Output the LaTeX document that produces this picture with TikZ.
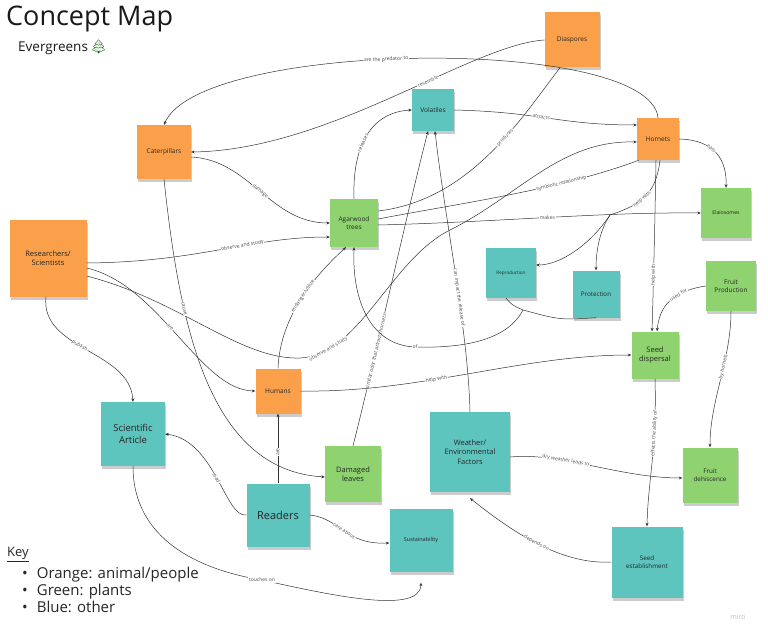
\documentclass[tikz,border=0pt]{standalone}
\usepackage{fontspec}
\setmainfont{Open Sans}
\newfontfamily\emojifont{Noto Emoji}
\usetikzlibrary{shadows,arrows.meta}
\definecolor{orng}{RGB}{250,160,75}
\definecolor{grn}{RGB}{143,210,112}
\definecolor{teal}{RGB}{94,196,190}
\tikzset{
  note/.style={minimum width=#1, minimum height=#1, inner sep=1pt, align=center, text=black!85,
    drop shadow={shadow xshift=1pt,shadow yshift=-3pt,opacity=0.2,fill=black}},
  onote/.style={note=#1, fill=orng},
  gnote/.style={note=#1, fill=grn},
  bnote/.style={note=#1, fill=teal},
  conn/.style={draw=black!80, line width=0.5pt, -{Stealth[length=3.5pt,width=3pt]}},
  plain/.style={draw=black!80, line width=0.5pt},
  lab/.style={font=\fontsize{5}{5.5}\selectfont, fill=white, inner sep=0.6pt, text=black!70},
  fs/.style={font=\fontsize{#1pt}{1.25\dimexpr #1pt\relax}\selectfont}
}
\begin{document}
\begin{tikzpicture}[x=1pt,y=1pt]
\useasboundingbox[fill=white] (0,0) rectangle (768,-639);
% title
\node[anchor=north west, inner sep=0, fs=27, text=black!90] (title) at (6,-6) {Concept Map};
\node[anchor=north west, inner sep=0, fs=13.5, text=black!90] (sub) at (18,-40) {Evergreens\,{\emojifont\color{green!40!black}🌲}};
% nodes
\node[onote=54pt, fs=6.5] (cat) at (164,-152) {Caterpillars};
\node[onote=55pt, fs=6.5] (dia) at (572,-40) {Diaspores};
\node[bnote=42pt, fs=6.5] (vol) at (433,-110) {Volatiles};
\node[onote=42pt, fs=6.5] (hor) at (658,-139) {Hornets};
\node[gnote=48pt, fs=6.5] (agw) at (354,-223) {Agarwood\\trees};
\node[gnote=50pt, fs=5.2] (ela) at (726,-213) {Elaiosomes};
\node[onote=77pt, fs=7.5] (res) at (48,-258) {Researchers/\\Scientists};
\node[bnote=50pt, fs=4.6] (rep) at (511,-273) {Reproduction};
\node[bnote=47pt, fs=6.3] (pro) at (596,-294) {Protection};
\node[gnote=50pt, fs=6.5] (fp) at (731,-286) {Fruit\\Production};
\node[gnote=47pt, fs=7.5] (sd) at (655,-355) {Seed\\dispersal};
\node[onote=45pt, fs=6.5] (hum) at (278,-391) {Humans};
\node[bnote=64pt, fs=9.5] (sa) at (133,-434) {Scientific\\Article};
\node[bnote=80pt, fs=7.5] (wea) at (470,-452) {Weather/\\Environmental\\Factors};
\node[gnote=56pt, fs=7.5] (dl) at (353,-474) {Damaged\\leaves};
\node[gnote=55pt, fs=6.3] (fd) at (710,-475) {Fruit\\dehiscence};
\node[bnote=63pt, fs=11] (rea) at (278,-515) {Readers};
\node[bnote=63pt, fs=5.5] (sus) at (421,-540) {Sustainability};
\node[bnote=71pt, fs=6.3] (se) at (647,-562) {Seed\\establishment};
% connectors
\draw[conn] (hor.north) .. controls (650,-35) and (200,-40) .. node[lab,sloped,pos=0.55]{are the predator to} (cat.north);
\draw[conn] (dia.west) .. controls (470,-45) and (330,-150) .. node[lab,sloped,pos=0.4]{resemble} (cat.east);
\draw[conn] ([yshift=-5pt]cat.east) .. controls (250,-160) and (270,-223) .. node[lab,sloped,pos=0.5]{damage} (agw.west);
\draw[conn] ([yshift=-5pt]res.east) .. controls (200,-262) and (250,-237) .. node[lab,sloped,pos=0.6]{observe and study} ([yshift=-14pt]agw.west);
\draw[conn] (agw.north) .. controls (352,-140) and (375,-112) .. node[lab,sloped,pos=0.4]{releases} (vol.west);
\draw[plain] ([yshift=12pt]agw.east) .. controls (470,-200) and (520,-120) .. node[lab,sloped,pos=0.6]{produces} ([xshift=-12pt]dia.south);
\draw[conn] (vol.east) .. controls (540,-112) and (560,-125) .. node[lab,sloped,pos=0.45]{attracts} ([yshift=14pt]hor.west);
\draw[conn] (hor.east) .. controls (715,-140) and (727,-160) .. node[lab,sloped,pos=0.4]{eats} (ela.north);
\draw[conn] ([yshift=-2pt]agw.east) .. controls (500,-222) and (600,-212) .. node[lab,pos=0.5]{makes} (ela.west);
\draw[plain] ([xshift=2pt]hor.south west) .. controls (560,-190) and (450,-205) .. node[lab,sloped,pos=0.3]{symbiotic relationship} ([yshift=4pt]agw.east);
\coordinate (hw) at (610,-215);
\draw[plain] ([xshift=2pt]hor.south) .. controls (656,-195) and (640,-205) .. node[lab,sloped,pos=0.55]{help with} (hw);
\draw[conn] (hw) .. controls (590,-245) and (560,-265) .. ([yshift=8pt]rep.east);
\draw[conn] (hw) .. controls (600,-230) and (596,-250) .. (pro.north);
\draw[conn] ([xshift=-2pt]hor.south) .. controls (655,-220) and (653,-300) .. node[lab,sloped,pos=0.6]{help with} ([xshift=-3pt]sd.north);
\draw[conn] (fp.west) .. controls (680,-290) and (660,-300) .. node[lab,sloped,pos=0.4]{used for} ([xshift=2pt]sd.north);
\draw[conn] (fp.south) .. controls (731,-360) and (710,-400) .. node[lab,sloped,pos=0.4]{by hornets} (fd.north);
\draw[conn] (sd.south) .. controls (657,-450) and (648,-480) .. node[lab,sloped,pos=0.3]{effects the ability of} (se.north);
\draw[conn] ([yshift=-5pt]wea.east) .. controls (560,-452) and (620,-478) .. node[lab,sloped,pos=0.35]{dry weather leads to} ([yshift=-3pt]fd.west);
\draw[conn] (se.west) .. controls (560,-565) and (510,-530) .. node[lab,sloped,pos=0.5]{depends on} ([yshift=-6pt]wea.south);
\draw[conn] (wea.north) .. controls (468,-330) and (445,-220) .. node[lab,sloped,pos=0.42]{can impact the release of} ([xshift=2pt]vol.south);
\draw[conn] (dl.north) .. controls (370,-380) and (410,-200) .. node[lab,sloped,pos=0.33]{similar odor that attracts hornets} ([xshift=-5pt]vol.south);
\draw[conn] (hum.north) .. controls (280,-320) and (310,-280) .. node[lab,sloped,pos=0.55]{endanger/utilize} ([xshift=-8pt]agw.south);
\coordinate (jn) at (523,-310);
\draw[plain] ([xshift=-5pt]rep.south) .. controls (512,-305) .. (jn);
\draw[plain] (jn) .. controls (560,-320) .. (pro.south);
\draw[conn] (jn) .. controls (505,-345) and (450,-348) .. (415,-347) node[lab]{of} .. controls (370,-345) and (352,-300) .. (agw.south);
\draw[conn] ([yshift=-18pt]res.east) .. controls (180,-300) and (240,-360) .. (300,-358) .. controls (360,-355) and (390,-260) .. node[lab,sloped,pos=0.17]{observe and study} (450,-230) .. controls (520,-195) and (560,-140) .. ([yshift=-3pt]hor.west);
\draw[conn] ([yshift=-10pt]res.east) .. controls (160,-285) and (200,-390) .. node[lab,sloped,pos=0.45]{are} (hum.west);
\draw[conn] (cat.south) .. controls (180,-330) and (210,-470) .. node[lab,sloped,pos=0.3]{cause} ([yshift=-3pt]dl.west);
\draw[conn] ([xshift=-2pt]res.south) .. controls (40,-350) and (130,-350) .. node[lab,sloped,pos=0.45]{publish} (sa.north);
\draw[conn] (hum.east) .. controls (420,-393) and (520,-355) .. node[lab,sloped,pos=0.4]{help with} (sd.west);
\draw[conn] (rea.north) -- node[lab,sloped,pos=0.45]{are} (hum.south);
\draw[conn] (rea.west) .. controls (225,-518) and (215,-440) .. node[lab,sloped,pos=0.5]{read} (sa.east);
\draw[conn] (rea.east) .. controls (340,-518) and (345,-545) .. node[lab,sloped,pos=0.5]{care about} ([yshift=-3pt]sus.west);
\draw[conn] (sa.south) .. controls (133,-540) and (200,-570) .. (262,-580) node[lab,sloped]{touches on} .. controls (330,-595) and (420,-615) .. ([yshift=-11pt]sus.south);
% key
\node[anchor=north west, inner sep=0, fs=13, text=black!85] (key) at (7,-547) {\underline{Key}};
\node[anchor=north west, inner sep=0, fs=15, text=black!85, align=left] (keyl) at (22,-567) {\textbullet\hspace{9pt}Orange: animal/people\\[-2pt]\textbullet\hspace{9pt}Green: plants\\[-2pt]\textbullet\hspace{9pt}Blue: other};
\node[fs=7, text=black!25] (miro) at (738,-617) {miro};
\end{tikzpicture}
\end{document}
